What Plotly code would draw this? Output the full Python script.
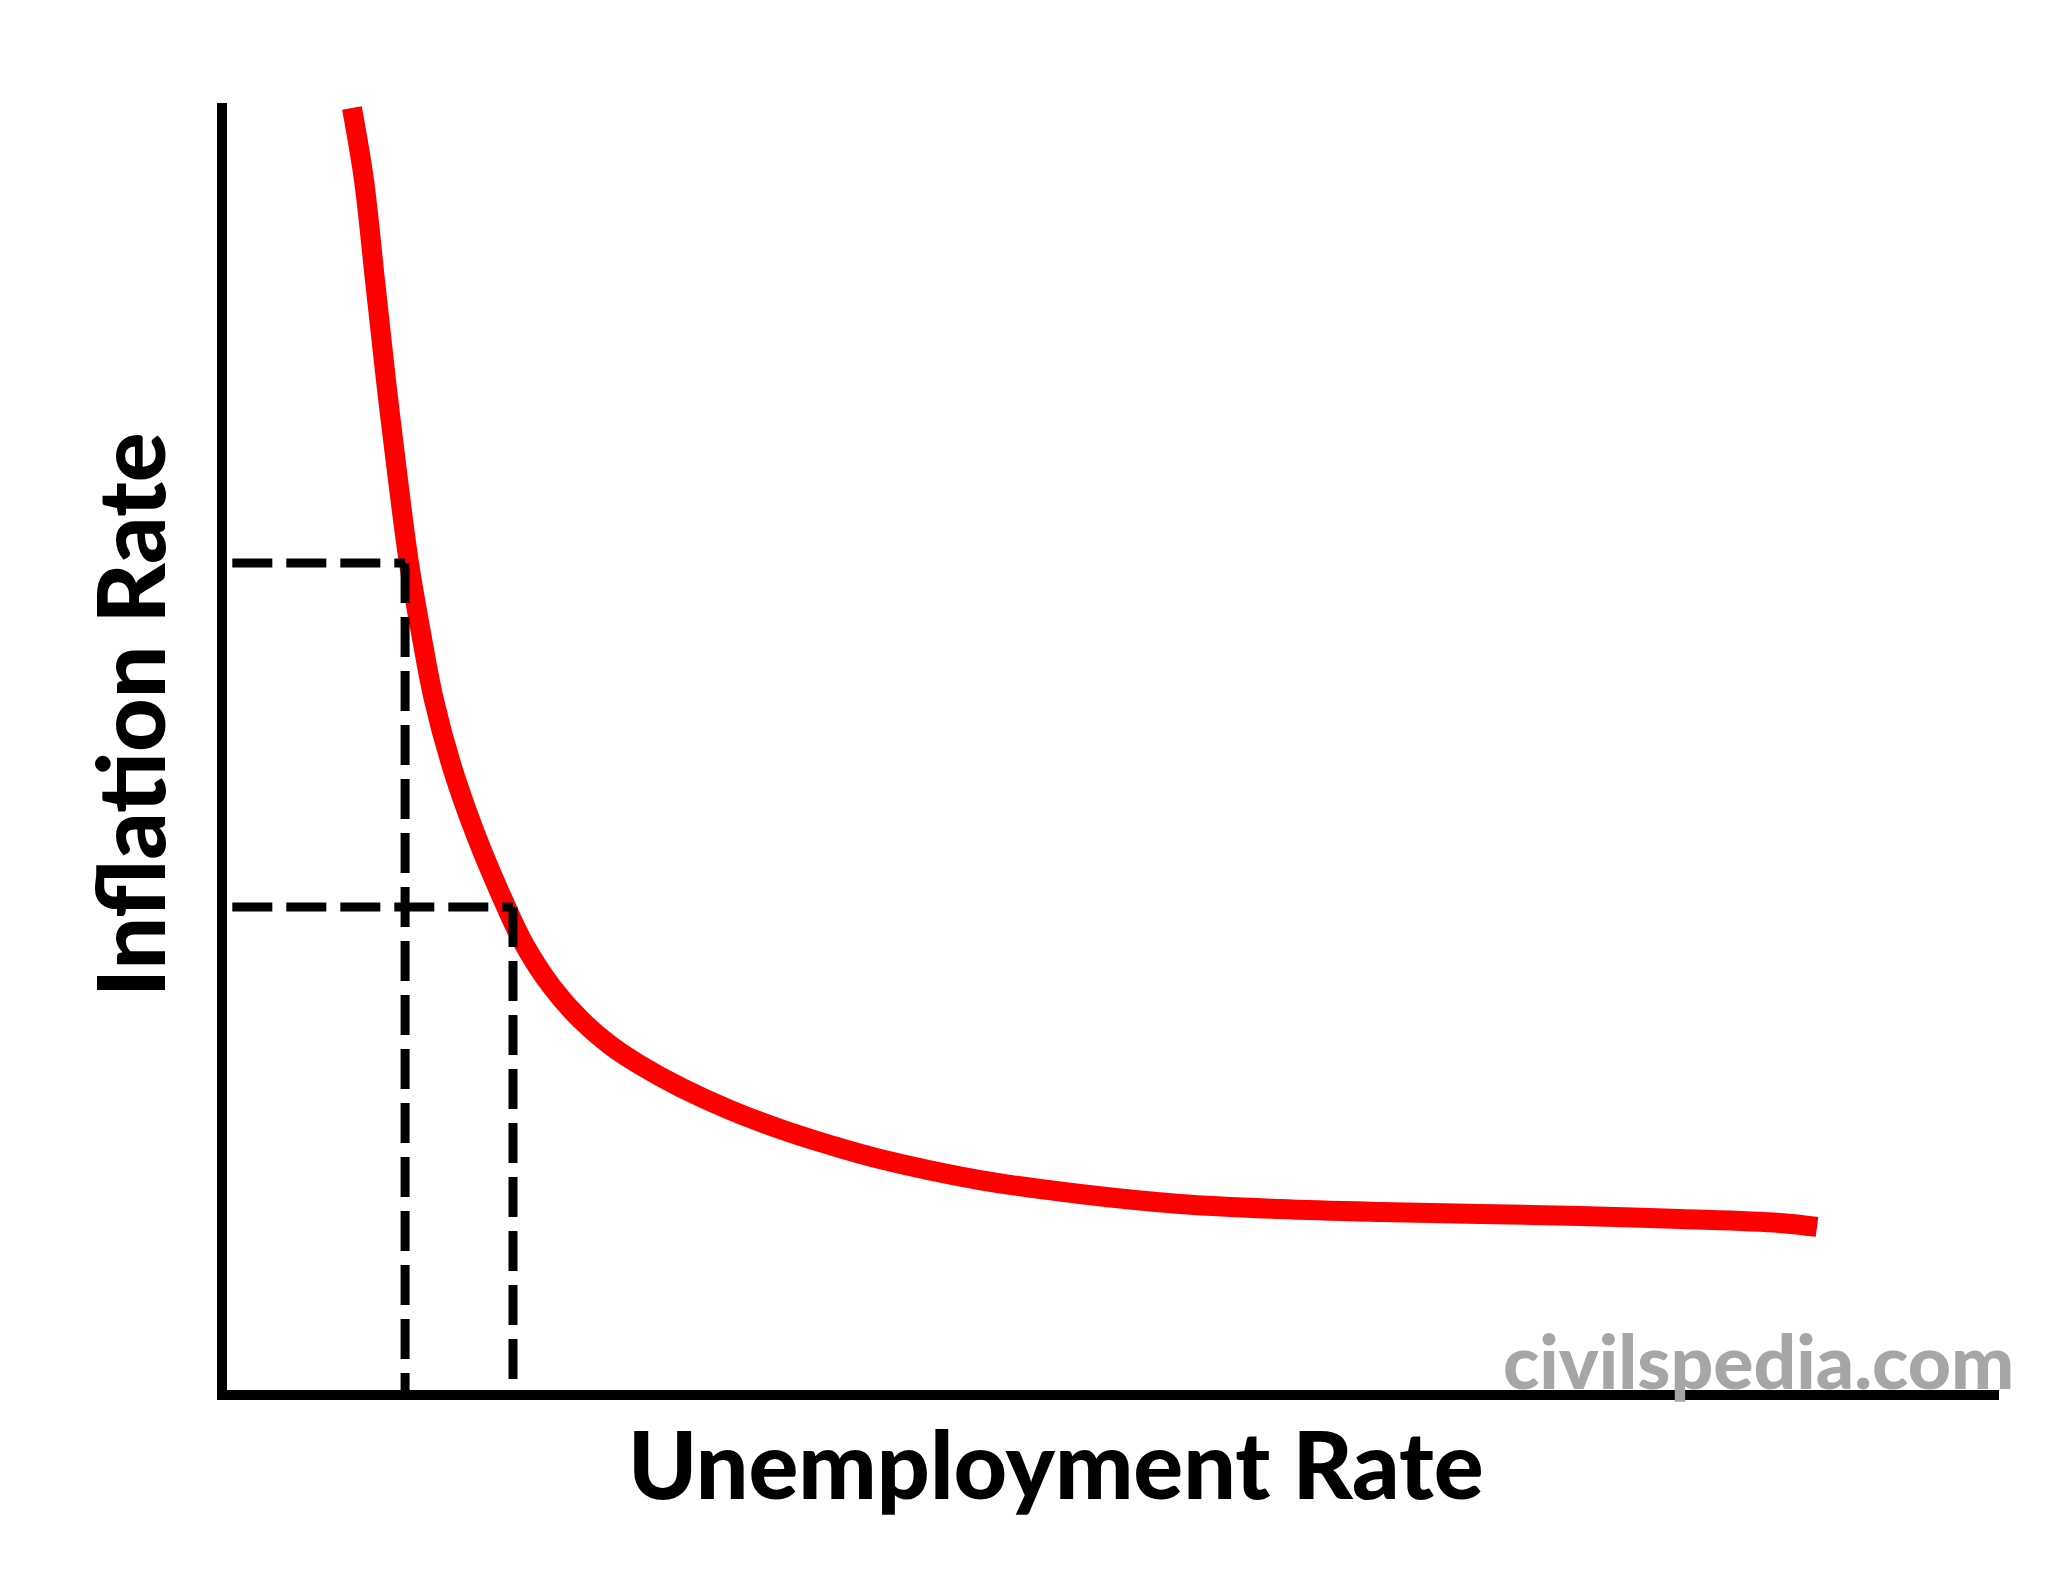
import plotly.graph_objects as go

# Phillips curve (arbitrary units, 0-10 on both axes)
unemployment = [0.705, 0.773, 0.835, 0.897, 0.965, 1.027, 1.095, 1.168, 1.270, 1.400,
                1.558, 1.676, 1.834, 1.992, 2.161, 2.331, 2.556, 2.839, 3.121, 3.403,
                3.685, 4.249, 4.814, 5.378, 5.942, 6.507, 7.071, 7.636, 8.200, 8.764,
                8.973]
inflation = [9.923, 9.365, 8.591, 7.817, 7.043, 6.401, 5.859, 5.341, 4.822, 4.311,
             3.793, 3.452, 3.119, 2.872, 2.670, 2.515, 2.345, 2.167, 2.020, 1.896,
             1.788, 1.625, 1.517, 1.440, 1.401, 1.378, 1.362, 1.347, 1.324, 1.293,
             1.262]

# the two marked points on the curve
marked_u = [1.005, 1.614]
marked_i = [6.401, 3.738]

x_title = "Unemployment Rate"
y_title = "Inflation Rate"
watermark = "civilspedia.com"

OFF = 8  # default page body margin
W, H = 2048 - OFF, 1574 - OFF
L, R, T, B = 227 - OFF, 49, 103 - OFF, 184
PW, PH = W - L - R, H - T - B
Y_TOP = 10 * PH / 1292.0  # keeps 10 units = 1292 px


def px(x):
    return (x - OFF - L) / PW


def py(y):
    return (H - B - (y - OFF)) / PH


fig = go.Figure()
fig.add_trace(go.Scatter(
    x=unemployment, y=inflation, mode="lines",
    line=dict(color="#ff0000", width=20, shape="spline", smoothing=1.0),
    hoverinfo="skip", showlegend=False))

dash = "40px,14px"
for u, i in zip(marked_u, marked_i):
    fig.add_trace(go.Scatter(
        x=[0.03, u], y=[i, i], mode="lines",
        line=dict(color="black", width=9, dash=dash),
        hoverinfo="skip", showlegend=False))
    fig.add_trace(go.Scatter(
        x=[u, u], y=[i, 0.0], mode="lines",
        line=dict(color="black", width=9, dash=dash),
        hoverinfo="skip", showlegend=False))

axis_common = dict(showgrid=False, zeroline=False, showticklabels=False, ticks="",
                   showline=True, linewidth=10, linecolor="black", fixedrange=True)

font_family = "Lato, 'Open Sans', sans-serif"

fig.update_layout(
    width=W, height=H,
    margin=dict(l=L, r=R, t=T, b=B, pad=0),
    paper_bgcolor="white", plot_bgcolor="white",
    xaxis=dict(range=[0, 10], **axis_common),
    yaxis=dict(range=[0, Y_TOP], **axis_common),
    annotations=[
        dict(text=x_title, xref="paper", yref="paper", x=px(1056), y=py(1463),
             xanchor="center", yanchor="middle", showarrow=False,
             font=dict(family=font_family, size=93, color="black", weight=900)),
        dict(text=y_title, xref="paper", yref="paper", x=px(129), y=py(715),
             xanchor="center", yanchor="middle", showarrow=False, textangle=-90,
             font=dict(family=font_family, size=93, color="black", weight=900)),
        dict(text=watermark, xref="paper", yref="paper", x=px(1758), y=py(1360),
             xanchor="center", yanchor="middle", showarrow=False,
             font=dict(family=font_family, size=75, color="#a6a6a6", weight=900)),
    ],
)

fig.write_html("out.html")
